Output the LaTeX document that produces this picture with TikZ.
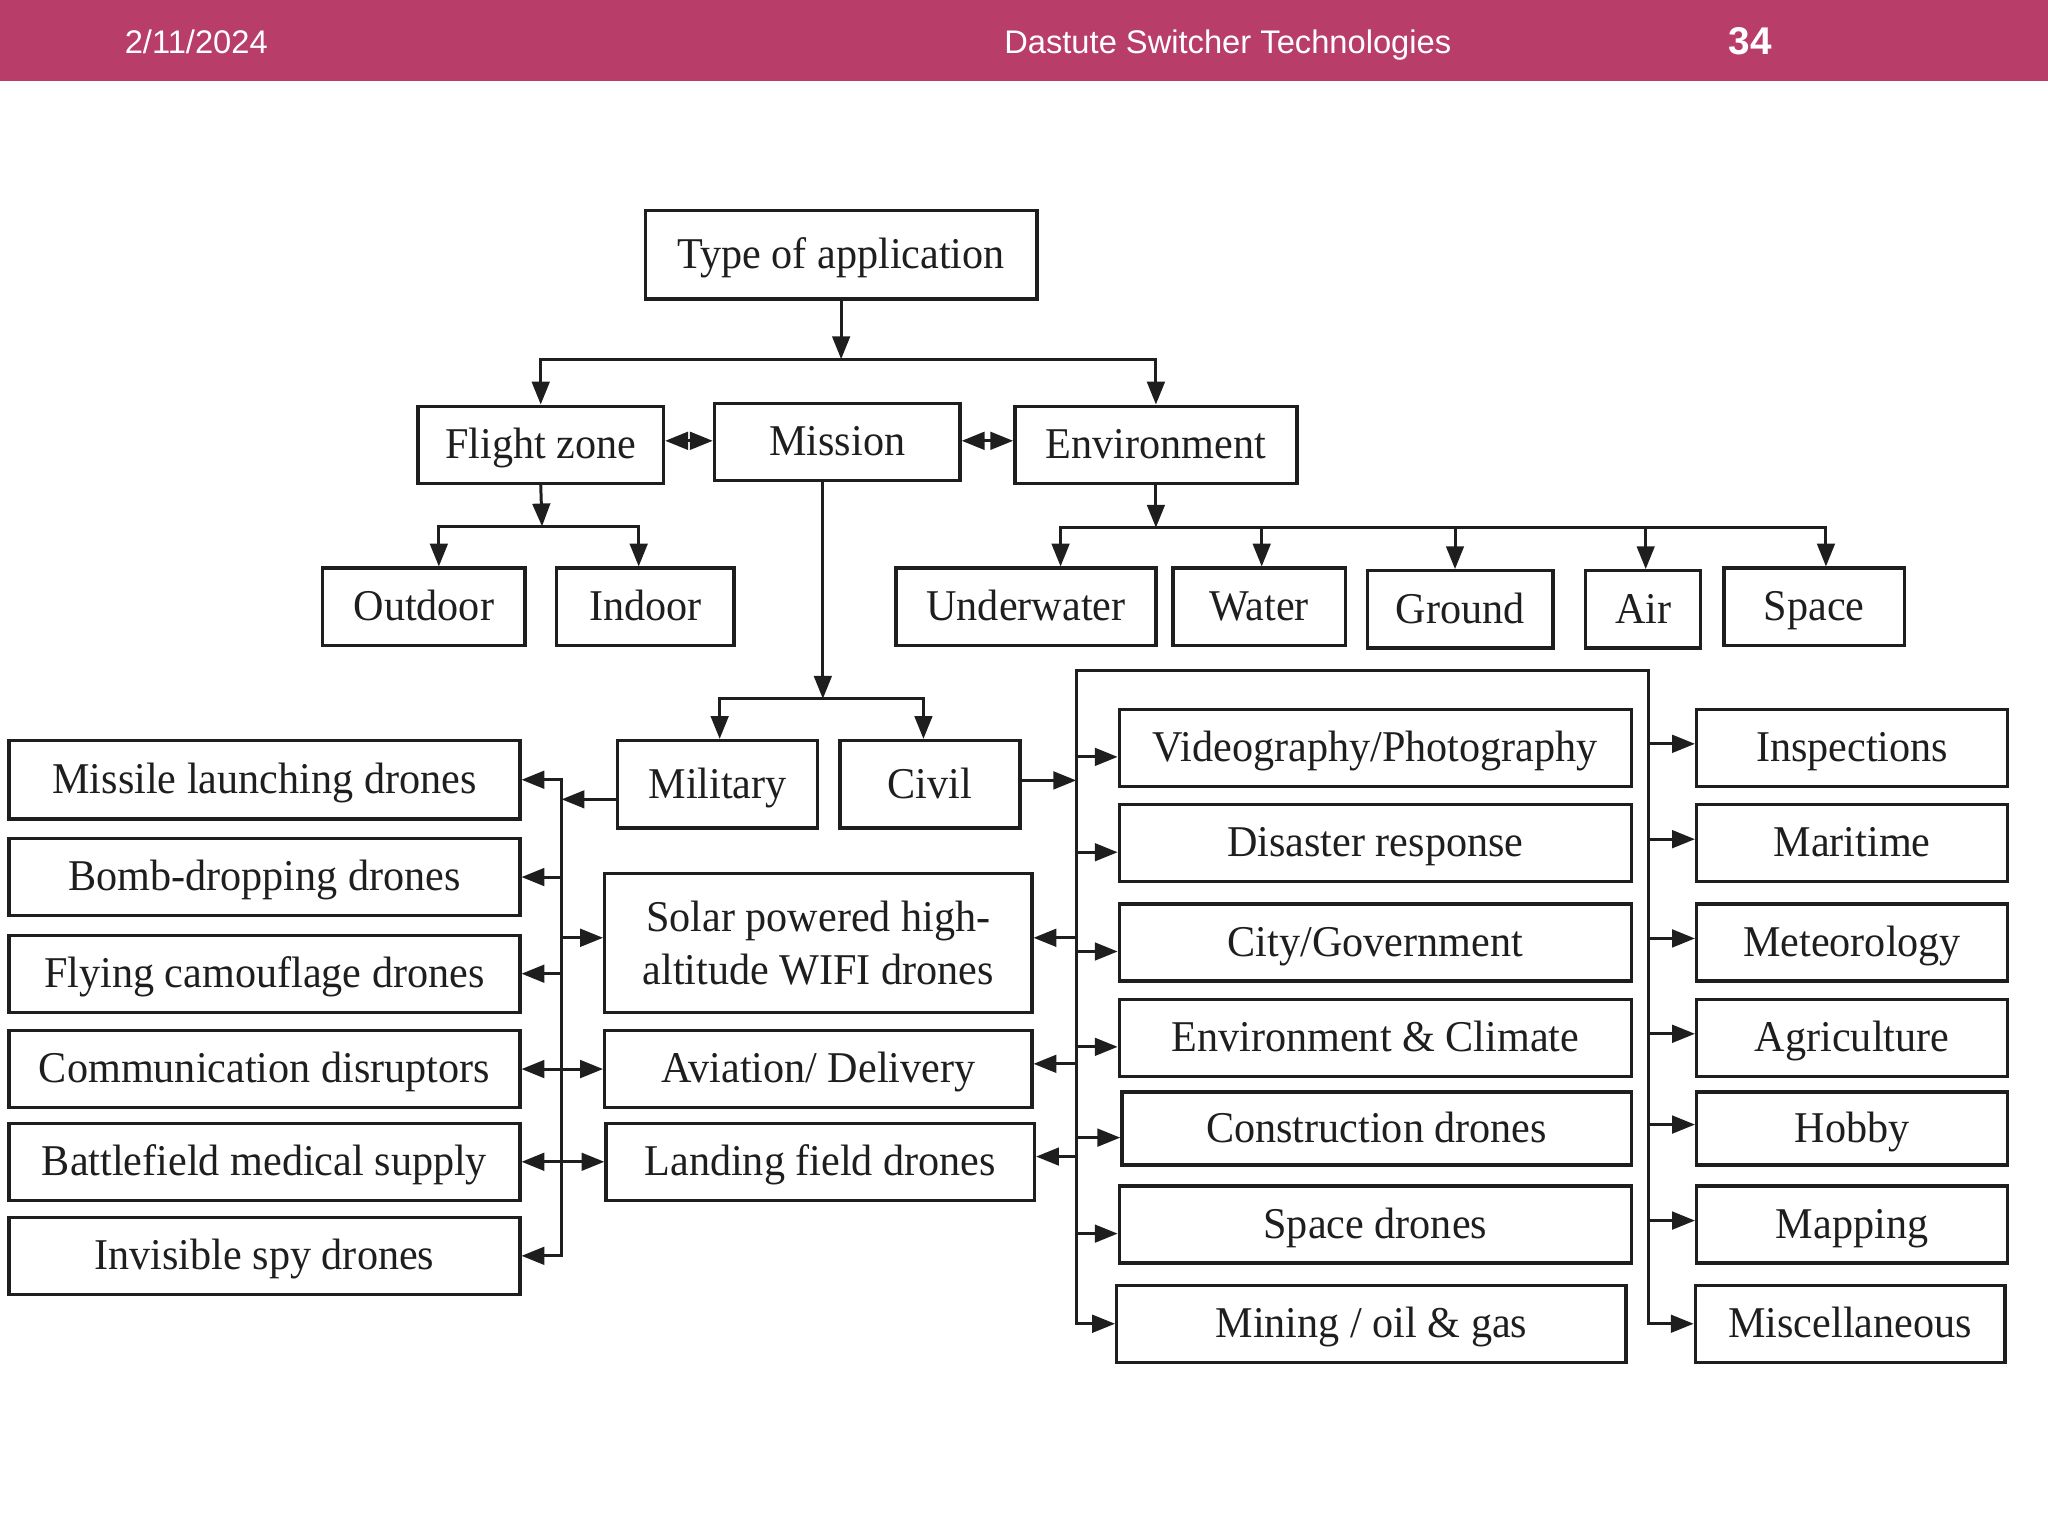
\documentclass[tikz,border=0pt]{standalone}
\usepackage{fontspec}
\setmainfont{Liberation Serif}[FakeStretch=0.96]
\newfontfamily\hdrfont{Liberation Sans}
\usetikzlibrary{arrows.meta}
\definecolor{hdrc}{RGB}{184,61,104}
\definecolor{ink}{RGB}{30,30,30}
\newcommand\bx[6]{\node[box,minimum width={(#4-#2)*0.013061cm},minimum height={(#5-#3)*0.013061cm}] (#1) at ({(#2+#4)/2},{(#3+#5)/2}) {#6};}
\begin{document}
\begin{tikzpicture}[x=0.013061cm,y=-0.013061cm,
  boxbase/.style={draw=ink,line width=0.95pt,inner sep=0pt,align=center,text=ink,
    font=\fontsize{12.5}{15.2}\selectfont},
  box/.style={boxbase,text height=9.5pt,text depth=1.7pt},
  ln/.style={draw=ink,line width=0.85pt,line cap=rect},
  tip/.tip={Triangle[length=6.5pt,width=5pt]},
  arr/.style={ln,-tip},
  dbl/.style={ln,tip-tip},
  hdr/.style={text=white,inner sep=0pt,font=\hdrfont\fontsize{9.3}{11}\selectfont}]
\useasboundingbox (0,0) rectangle (1568,1176);
\fill[hdrc] (0,0) rectangle (1568,62);
\node[hdr,anchor=base west] (date) at (95,41) {2/11/2024};
\node[hdr,anchor=base] (ttl) at (940,41) {Dastute Switcher Technologies};
\node[hdr,anchor=base,font=\hdrfont\bfseries\fontsize{11}{13}\selectfont] (pg) at (1340,42) {34};
% boxes
\bx{top}{494}{161}{794}{229}{Type of application}
\bx{fz}{320}{311}{508}{370}{Flight zone}
\bx{mis}{547}{309}{735}{368}{Mission}
\bx{env}{777}{311}{993}{370}{Environment}
\bx{out}{247}{435}{402}{494}{Outdoor}
\bx{ind}{426}{435}{562}{494}{Indoor}
\bx{uw}{686}{435}{885}{494}{Underwater}
\bx{wat}{898}{435}{1030}{494}{Water}
\bx{gro}{1047}{437}{1189}{496}{Ground}
\bx{air}{1214}{437}{1302}{496}{Air}
\bx{spa}{1320}{435}{1458}{494}{Space}
\bx{mil}{473}{567}{626}{634}{Military}
\bx{civ}{643}{567}{781}{634}{Civil}
\bx{msl}{7}{567}{398}{627}{Missile launching drones}
\bx{bmb}{7}{642}{398}{701}{Bomb-dropping drones}
\bx{fly}{7}{716}{398}{775}{Flying camouflage drones}
\bx{com}{7}{789}{398}{848}{Communication disruptors}
\bx{bat}{7}{860}{398}{919}{Battlefield medical supply}
\bx{inv}{7}{932}{398}{991}{Invisible spy drones}
\node[boxbase,minimum width={327*0.013061cm},minimum height={106*0.013061cm}] (sol) at (626.5,722) {Solar powered high-\\altitude WIFI drones};
\bx{avi}{463}{789}{790}{848}{Aviation/ Delivery}
\bx{lan}{464}{860}{792}{919}{Landing field drones}
\bx{vid}{857}{543}{1249}{602}{Videography/Photography}
\bx{dis}{857}{616}{1249}{675}{Disaster response}
\bx{cit}{857}{692}{1249}{751}{City/Government}
\bx{enc}{857}{765}{1249}{824}{Environment \& Climate}
\bx{con}{859}{836}{1249}{892}{Construction drones}
\bx{spd}{857}{908}{1249}{967}{Space drones}
\bx{min}{855}{984}{1245}{1043}{Mining / oil \& gas}
\bx{ins}{1299}{543}{1537}{602}{Inspections}
\bx{mar}{1299}{616}{1537}{675}{Maritime}
\bx{met}{1299}{692}{1537}{751}{Meteorology}
\bx{agr}{1299}{765}{1537}{824}{Agriculture}
\bx{hob}{1299}{836}{1537}{892}{Hobby}
\bx{map}{1299}{908}{1537}{967}{Mapping}
\bx{mis2}{1298}{984}{1535}{1043}{Miscellaneous}
% top level
\coordinate (j1) at (644,275);
\draw[arr] (top.south) -- (j1);
\draw[ln] (fz.north |- j1) -- (env.north |- j1);
\draw[arr] (fz.north |- j1) -- (fz.north);
\draw[arr] (env.north |- j1) -- (env.north);
\path (fz.east) ++(0,-3) coordinate (dfz);
\path (env.west) ++(0,-3) coordinate (den);
\draw[dbl] (dfz) -- (dfz -| mis.west);
\draw[dbl] (den -| mis.east) -- (den);
% flight zone
\coordinate (j2) at (415,403);
\coordinate (o1) at (336,403);
\coordinate (i1) at (489,403);
\draw[arr] (fz.south) -- (j2);
\draw[ln] (o1) -- (i1);
\draw[arr] (o1) -- (out.north -| o1);
\draw[arr] (i1) -- (ind.north -| i1);
% environment
\coordinate (j3) at (885,404);
\coordinate (e1) at (812,404);
\coordinate (e2) at (966,404);
\coordinate (e3) at (1114,404);
\coordinate (e4) at (1260,404);
\coordinate (e5) at (1398,404);
\draw[arr] (env.south) -- (j3);
\draw[ln] (e1) -- (e5);
\draw[arr] (e1) -- (uw.north -| e1);
\draw[arr] (e2) -- (wat.north -| e2);
\draw[arr] (e3) -- (gro.north -| e3);
\draw[arr] (e4) -- (air.north -| e4);
\draw[arr] (e5) -- (spa.north -| e5);
% mission
\coordinate (m1) at (630,535);
\coordinate (m2) at (551,535);
\coordinate (m3) at (707,535);
\draw[arr] (mis.south -| m1) -- (m1);
\draw[ln] (m2) -- (m3);
\draw[arr] (m2) -- (mil.north -| m2);
\draw[arr] (m3) -- (civ.north -| m3);
% military bus
\coordinate (lb) at (430,0);
\coordinate (mb) at (430,612);
\draw[arr] (mil.west |- mb) -- (mb);
\draw[arr] (msl.east -| lb) -- (inv.east -| lb) -- (inv.east);
\draw[arr] (msl.east -| lb) -- (msl.east);
\foreach \n in {bmb,fly,com,bat} {\draw[arr] (\n.east -| lb) -- (\n.east);}
\path (sol.west) ++(0,-4) coordinate (tsol);
\draw[arr] (tsol -| lb) -- (tsol);
\draw[arr] (avi.west -| lb) -- (avi.west);
\draw[arr] (lan.west -| lb) -- (lan.west);
% civil bus
\coordinate (tl) at (824,513);
\coordinate (tr) at (1262,513);
\draw[arr] (tr) -- (tl) -- (min.west -| tl) -- (min.west);
\draw[arr] (tr) -- (mis2.west -| tr) -- (mis2.west);
\path (civ.east) ++(0,-3) coordinate (tciv);
\draw[arr] (tciv) -- (tciv -| tl);
\foreach \n in {vid,dis,cit,enc,con,spd} {\path (\n.west) ++(0,7) coordinate (t\n); \draw[arr] (t\n -| tl) -- (t\n);}
\foreach \n in {sol,avi,lan} {\path (\n.east) ++(0,-4) coordinate (u\n); \draw[arr] (u\n -| tl) -- (u\n);}
\foreach \n in {ins,mar,met,agr,hob,map} {\path (\n.west) ++(0,-3) coordinate (r\n); \draw[arr] (r\n -| tr) -- (r\n);}
\end{tikzpicture}
\end{document}
